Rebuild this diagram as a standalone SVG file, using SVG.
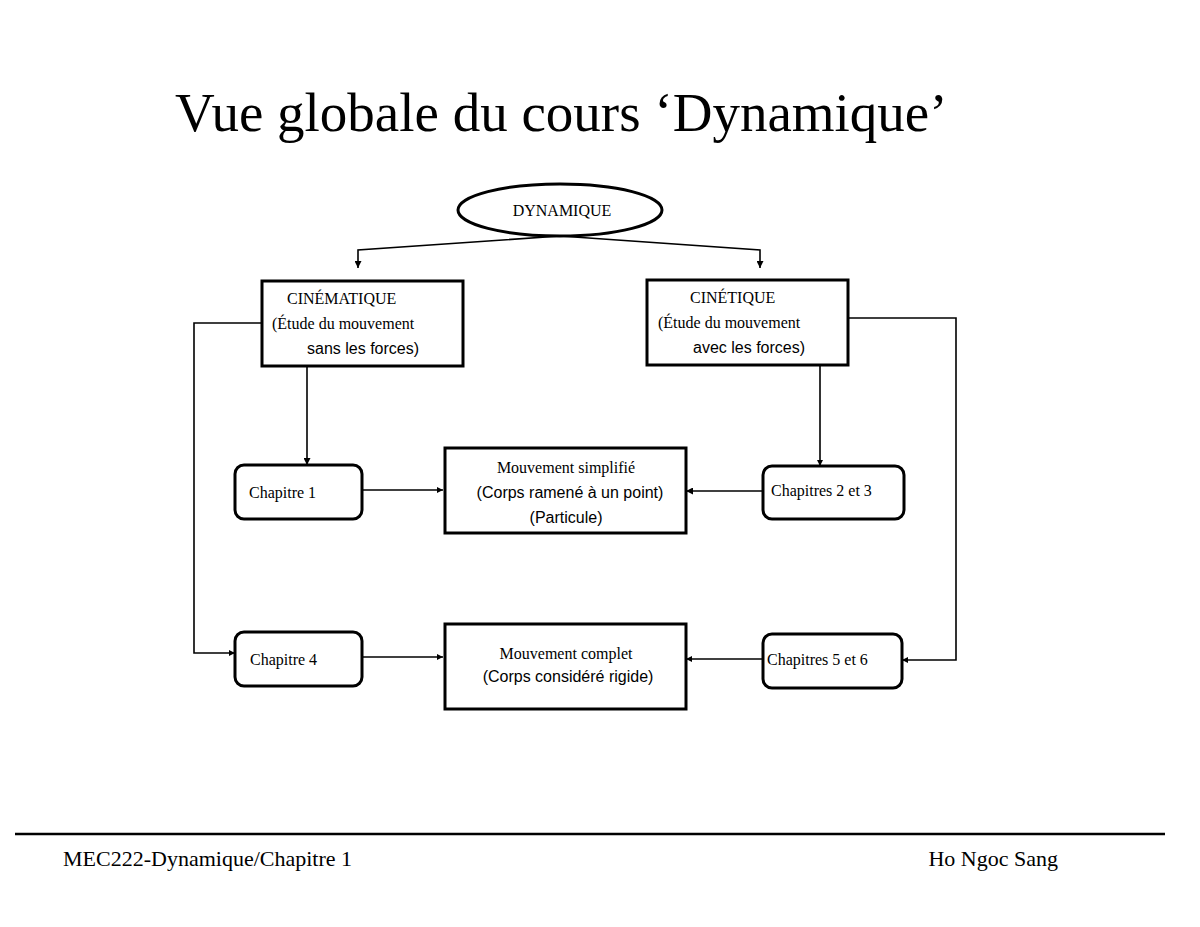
<svg xmlns="http://www.w3.org/2000/svg" width="1200" height="927" viewBox="0 0 1200 927">
<style>
.s{font-family:"Liberation Serif",serif;fill:#000}
.a{font-family:"Liberation Sans",Arial,sans-serif;fill:#000}
.b{fill:#fff;stroke:#000;stroke-width:3}
.c{fill:none;stroke:#000;stroke-width:1.6}
</style>
<defs><marker id="ar" viewBox="0 0 10 10" refX="10" refY="5" markerWidth="6" markerHeight="6" markerUnits="userSpaceOnUse" orient="auto"><path d="M0,0L10,5L0,10z"/></marker>
<marker id="ar2" viewBox="0 0 10 10" refX="10" refY="5" markerWidth="7" markerHeight="7" markerUnits="userSpaceOnUse" orient="auto"><path d="M0,0L10,5L0,10z"/></marker></defs>
<rect width="1200" height="927" fill="#fff"/>
<text class="s" x="175" y="131" font-size="55">Vue globale du cours ‘Dynamique’</text>
<g id="connectors">
<path class="c" stroke-width="3" d="M560,236L358,250V268" marker-end="url(#ar2)"/>
<path class="c" stroke-width="3" d="M560,236L760,250V268" marker-end="url(#ar2)"/>
<path class="c" stroke-width="2.5" d="M307,366V465" marker-end="url(#ar2)"/>
<path class="c" d="M820,366V466" marker-end="url(#ar)"/>
<path class="c" d="M262,323H194V653H235" marker-end="url(#ar)"/>
<path class="c" d="M848,318H956V660H902" marker-end="url(#ar)"/>
<path class="c" d="M362,490H443" marker-end="url(#ar)"/>
<path class="c" stroke-width="3" d="M763,491H686" marker-end="url(#ar2)"/>
<path class="c" d="M362,657H443" marker-end="url(#ar)"/>
<path class="c" d="M763,659H686" marker-end="url(#ar)"/>
</g>
<g id="dynamique"><ellipse class="b" cx="560" cy="210" rx="102" ry="26"/><text class="s" x="562" y="216" font-size="16" text-anchor="middle">DYNAMIQUE</text></g>
<g id="cinematique"><rect class="b" x="262" y="281" width="201" height="85"/>
<text class="s" x="287" y="304" font-size="16">CINÉMATIQUE</text>
<text class="s" x="272" y="329" font-size="16">(Étude du mouvement</text>
<text class="a" x="307" y="354" font-size="16">sans les forces)</text></g>
<g id="cinetique"><rect class="b" x="647" y="280" width="201" height="85"/>
<text class="s" x="690" y="303" font-size="16">CINÉTIQUE</text>
<text class="s" x="658" y="328" font-size="16">(Étude du mouvement</text>
<text class="a" x="693" y="353" font-size="16">avec les forces)</text></g>
<g id="ch1"><rect class="b" x="235" y="465" width="127" height="54" rx="9"/><text class="s" x="249" y="498" font-size="16">Chapitre 1</text></g>
<g id="ch23"><rect class="b" x="763" y="466" width="141" height="53" rx="9"/><text class="s" x="771" y="496" font-size="16">Chapitres 2 et 3</text></g>
<g id="simplifie"><rect class="b" x="445" y="448" width="241" height="85"/>
<text class="s" x="566" y="473" font-size="16" text-anchor="middle">Mouvement simplifié</text>
<text class="a" x="570" y="498" font-size="16" text-anchor="middle">(Corps ramené à un point)</text>
<text class="a" x="566" y="523" font-size="16" text-anchor="middle">(Particule)</text></g>
<g id="ch4"><rect class="b" x="235" y="632" width="127" height="54" rx="9"/><text class="s" x="250" y="665" font-size="16">Chapitre 4</text></g>
<g id="ch56"><rect class="b" x="763" y="634" width="139" height="54" rx="9"/><text class="s" x="767" y="665" font-size="16">Chapitres 5 et 6</text></g>
<g id="complet"><rect class="b" x="445" y="624" width="241" height="85"/>
<text class="s" x="566" y="659" font-size="16" text-anchor="middle">Mouvement complet</text>
<text class="a" x="568" y="682" font-size="16" text-anchor="middle">(Corps considéré rigide)</text></g>
<line x1="15" y1="834" x2="1165" y2="834" stroke="#000" stroke-width="2.5"/>
<text class="s" x="63" y="866" font-size="22">MEC222-Dynamique/Chapitre 1</text>
<text class="s" x="1058" y="866" font-size="22" text-anchor="end">Ho Ngoc Sang</text>
</svg>
